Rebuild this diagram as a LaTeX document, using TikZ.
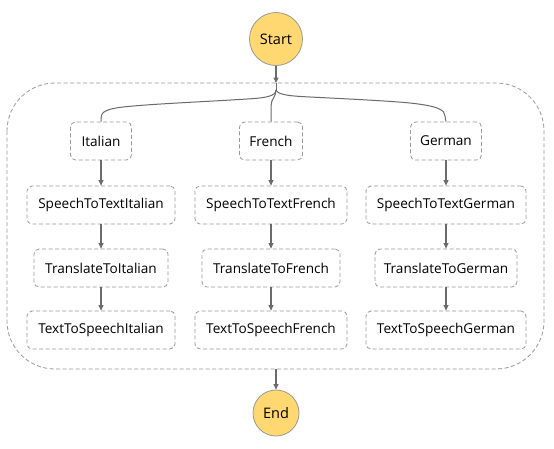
\documentclass[tikz,border=0pt]{standalone}
\usepackage{fontspec}
\setmainfont{Open Sans}
\usetikzlibrary{arrows.meta}
\definecolor{stepborder}{HTML}{999999}
\definecolor{arrowgray}{HTML}{6B6B6B}
\definecolor{termfill}{HTML}{FFD872}
\begin{document}
\begin{tikzpicture}[x=1pt,y=-1pt,
  stepbox/.style={draw=stepborder, dashed, dash pattern=on 4pt off 2.5pt, rounded corners=5pt, minimum height=38pt, inner xsep=0pt, font=\fontsize{13.6}{15}\selectfont, text=black, line width=0.8pt},
  term/.style={circle, draw=stepborder, fill=termfill, line width=0.8pt, inner sep=0pt, text=black, font=\fontsize{14.5}{16}\selectfont},
  conn/.style={draw=arrowgray, line width=1.1pt, -{Triangle[length=5.5pt,width=5pt]}},
  branch/.style={draw=arrowgray, line width=1pt}]
\useasboundingbox (0,0) rectangle (554,448);
\fill[white] (0,0) rectangle (554,448);
% group
\draw[stepborder, dashed, dash pattern=on 4pt off 2.5pt, line width=0.8pt, rounded corners=48pt] (7,83) rectangle (544,369);
% terminals
\node[term, minimum size=53pt] (start) at (276,39) {Start};
\node[term, minimum size=46pt] (end) at (276,413) {End};
\coordinate (fork) at (276,83);
\coordinate (forkb) at (276,90);
\coordinate (gbot) at (276,369);
% branch heads
\node[stepbox, minimum width=61pt] (it) at (101,141) {Italian};
\node[stepbox, minimum width=63pt] (fr) at (271,141) {French};
\node[stepbox, minimum width=71pt] (de) at (446,141) {German};
% column nodes
\node[stepbox, minimum width=148pt] (it1) at (101,205) {SpeechToTextItalian};
\node[stepbox, minimum width=134pt] (it2) at (101,268) {TranslateToItalian};
\node[stepbox, minimum width=148pt] (it3) at (101,330) {TextToSpeechItalian};
\node[stepbox, minimum width=152pt] (fr1) at (271,205) {SpeechToTextFrench};
\node[stepbox, minimum width=138pt] (fr2) at (271,268) {TranslateToFrench};
\node[stepbox, minimum width=152pt] (fr3) at (271,330) {TextToSpeechFrench};
\node[stepbox, minimum width=160pt] (de1) at (446,205) {SpeechToTextGerman};
\node[stepbox, minimum width=142pt] (de2) at (446,268) {TranslateToGerman};
\node[stepbox, minimum width=160pt] (de3) at (446,330) {TextToSpeechGerman};
% connectors
\draw[conn] (start) -- (fork);
\draw[branch] (fork) -- (forkb);
\draw[branch] (forkb) .. controls (276,96) and (266,98) .. (247,99) .. controls (200,102) and (150,104) .. (123,107) .. controls (106,109) and (101,112) .. (101,118) -- (it.north);
\draw[branch] (forkb) .. controls (276,97) and (271,99) .. (271,106) -- (fr.north);
\draw[branch] (forkb) .. controls (278,95) and (290,96) .. (310,97) .. controls (350,99) and (390,101) .. (410,103) .. controls (438,106) and (445,110) .. (445,116) -- (de.north);
\foreach \a/\b in {it/it1,it1/it2,it2/it3,fr/fr1,fr1/fr2,fr2/fr3,de/de1,de1/de2,de2/de3}
  \draw[conn] (\a) -- (\b);
\draw[conn] (gbot) -- (end);
\end{tikzpicture}
\end{document}
